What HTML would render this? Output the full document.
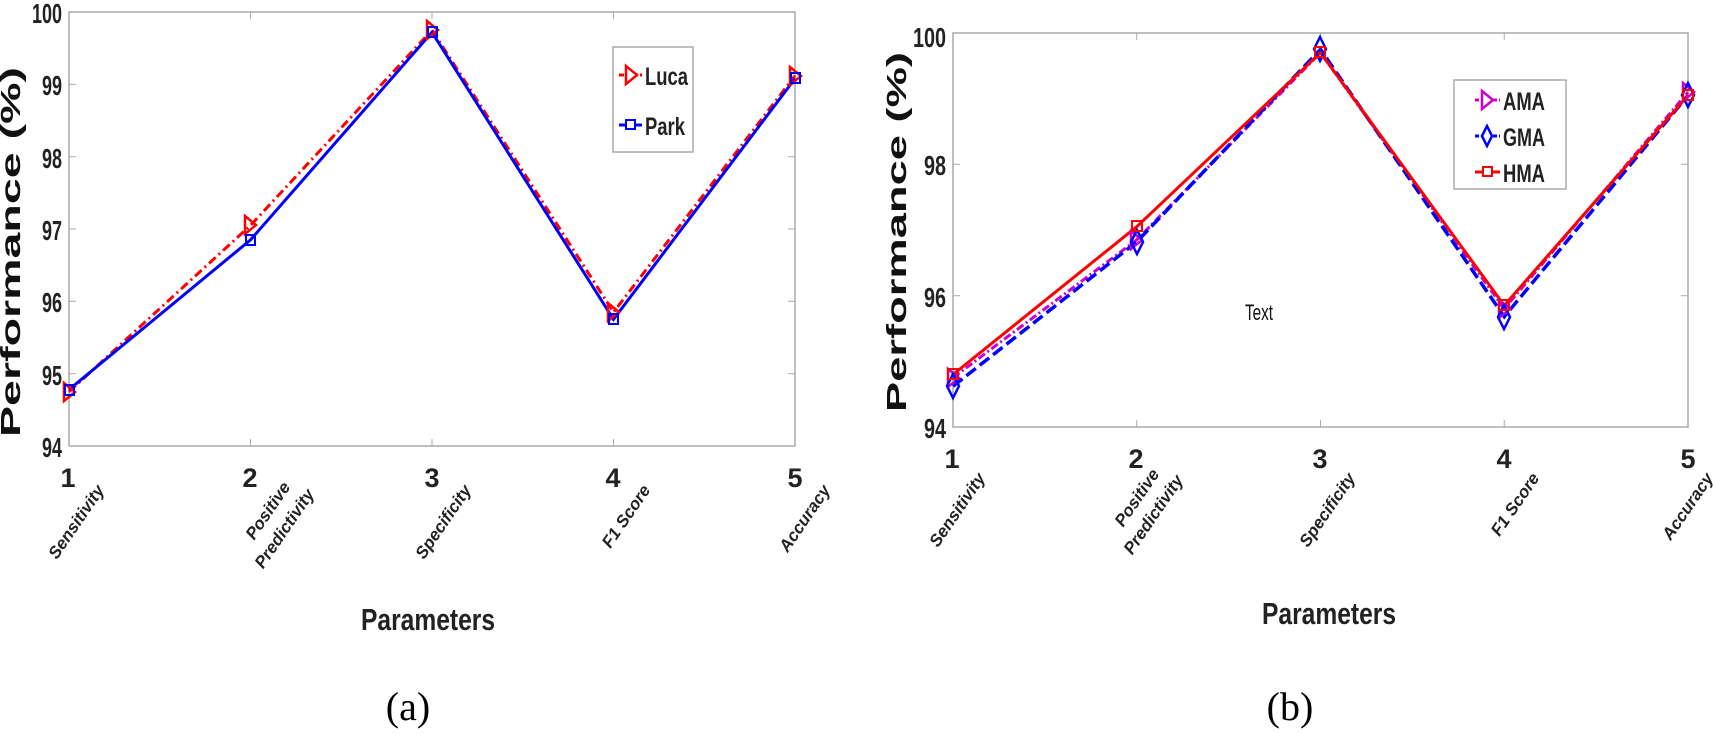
<!DOCTYPE html>
<html><head><style>
html,body{margin:0;padding:0;background:#fff;}
svg{display:block;}
.t{font-family:"Liberation Sans Narrow","Liberation Sans",sans-serif;font-weight:bold;fill:#222;}
.c{font-family:"Liberation Sans",sans-serif;font-weight:bold;font-style:italic;fill:#222;font-size:17px;}
.yl{font-family:"Liberation Sans",sans-serif;font-weight:bold;fill:#111;font-size:28px;}
.cap{font-family:"Liberation Serif",serif;font-size:40px;fill:#000;}
</style></head><body>
<svg width="1713" height="734" viewBox="0 0 1713 734" xmlns="http://www.w3.org/2000/svg">
<!-- LEFT PLOT -->
<g>
<rect x="69" y="12" width="726" height="434" fill="#fff" stroke="#aaa" stroke-width="1.5"/>
<g stroke="#aaa" stroke-width="1">
<line x1="250.5" y1="12" x2="250.5" y2="19"/><line x1="432" y1="12" x2="432" y2="19"/><line x1="613.5" y1="12" x2="613.5" y2="19"/>
<line x1="250.5" y1="446" x2="250.5" y2="439"/><line x1="432" y1="446" x2="432" y2="439"/><line x1="613.5" y1="446" x2="613.5" y2="439"/>
<line x1="69" y1="84.3" x2="76" y2="84.3"/><line x1="69" y1="156.7" x2="76" y2="156.7"/><line x1="69" y1="229" x2="76" y2="229"/><line x1="69" y1="301.3" x2="76" y2="301.3"/><line x1="69" y1="373.7" x2="76" y2="373.7"/>
<line x1="795" y1="84.3" x2="788" y2="84.3"/><line x1="795" y1="156.7" x2="788" y2="156.7"/><line x1="795" y1="229" x2="788" y2="229"/><line x1="795" y1="301.3" x2="788" y2="301.3"/><line x1="795" y1="373.7" x2="788" y2="373.7"/>
</g>
<g class="t" font-size="28" text-anchor="end">
<text x="62" y="23" textLength="30" lengthAdjust="spacingAndGlyphs">100</text>
<text x="62" y="95" textLength="20" lengthAdjust="spacingAndGlyphs">99</text>
<text x="62" y="168" textLength="20" lengthAdjust="spacingAndGlyphs">98</text>
<text x="62" y="240" textLength="20" lengthAdjust="spacingAndGlyphs">97</text>
<text x="62" y="312" textLength="20" lengthAdjust="spacingAndGlyphs">96</text>
<text x="62" y="385" textLength="20" lengthAdjust="spacingAndGlyphs">95</text>
<text x="62" y="457" textLength="20" lengthAdjust="spacingAndGlyphs">94</text>
</g>
<g class="t" font-size="27" text-anchor="middle">
<text x="68" y="487">1</text><text x="250" y="487">2</text><text x="432" y="487">3</text><text x="613" y="487">4</text><text x="795" y="487">5</text>
</g>
<polyline fill="none" stroke="#f00" stroke-width="3" stroke-dasharray="9,4,2,4" points="69,391.8 250.5,225.4 432,30.1 613.5,312.2 795,75.7"/>
<polyline fill="none" stroke="#00f" stroke-width="3" points="69,389.6 250.5,239.9 432,32.3 613.5,319.4 795,78.6"/>
<g fill="none" stroke="#f00" stroke-width="2.5">
<path d="M64,383 L75,392 L64,401 Z"/><path d="M245,216 L256,225 L245,234 Z"/><path d="M427,21 L438,30 L427,39 Z"/><path d="M608,303 L619,312 L608,321 Z"/><path d="M790,67 L801,76 L790,85 Z"/>
</g>
<g fill="none" stroke="#00f" stroke-width="2">
<rect x="65" y="385" width="9" height="10"/><rect x="246" y="235" width="9" height="10"/><rect x="428" y="27" width="9" height="10"/><rect x="609" y="314" width="9" height="10"/><rect x="791" y="73" width="9" height="10"/>
</g>
<rect x="613" y="47" width="80" height="105" fill="#fff" stroke="#aaa" stroke-width="1.5"/>
<line x1="619" y1="75" x2="642" y2="75" stroke="#f00" stroke-width="3" stroke-dasharray="5,2"/>
<path d="M626,66 L637,75 L626,84 Z" fill="#fff" stroke="#f00" stroke-width="2.5"/>
<text class="t" x="645" y="85" font-size="25" textLength="43" lengthAdjust="spacingAndGlyphs">Luca</text>
<line x1="619" y1="125" x2="642" y2="125" stroke="#00f" stroke-width="3"/>
<rect x="626" y="120" width="9" height="9" fill="#fff" stroke="#00f" stroke-width="2"/>
<text class="t" x="645" y="135" font-size="25" textLength="40" lengthAdjust="spacingAndGlyphs">Park</text>
<g class="c" text-anchor="end">
<text transform="translate(105,490) rotate(-55.5)">Sensitivity</text>
<text transform="translate(291,487) rotate(-55.5)">Positive</text>
<text transform="translate(315,494) rotate(-55.5)">Predictivity</text>
<text transform="translate(472,490) rotate(-55.5)">Specificity</text>
<text transform="translate(651,490) rotate(-55.5)">F1 Score</text>
<text transform="translate(831,490) rotate(-55.5)">Accuracy</text>
</g>
<text class="yl" transform="translate(20,252) rotate(-90)" text-anchor="middle" textLength="370" lengthAdjust="spacingAndGlyphs">Performance (%)</text>
<text class="t" x="428" y="630" font-size="31" text-anchor="middle" textLength="134" lengthAdjust="spacingAndGlyphs">Parameters</text>
<text class="cap" x="408" y="720" text-anchor="middle">(a)</text>
</g>
<!-- RIGHT PLOT -->
<g>
<rect x="953" y="33" width="735" height="394" fill="#fff" stroke="#aaa" stroke-width="1.5"/>
<g stroke="#aaa" stroke-width="1">
<line x1="1136.75" y1="33" x2="1136.75" y2="40"/><line x1="1320.5" y1="33" x2="1320.5" y2="40"/><line x1="1504.25" y1="33" x2="1504.25" y2="40"/>
<line x1="1136.75" y1="427" x2="1136.75" y2="420"/><line x1="1320.5" y1="427" x2="1320.5" y2="420"/><line x1="1504.25" y1="427" x2="1504.25" y2="420"/>
<line x1="953" y1="164.3" x2="960" y2="164.3"/><line x1="953" y1="295.7" x2="960" y2="295.7"/>
<line x1="1688" y1="164.3" x2="1681" y2="164.3"/><line x1="1688" y1="295.7" x2="1681" y2="295.7"/>
</g>
<g class="t" font-size="28" text-anchor="end">
<text x="946" y="47" textLength="33" lengthAdjust="spacingAndGlyphs">100</text>
<text x="946" y="175" textLength="22" lengthAdjust="spacingAndGlyphs">98</text>
<text x="946" y="307" textLength="22" lengthAdjust="spacingAndGlyphs">96</text>
<text x="946" y="438" textLength="22" lengthAdjust="spacingAndGlyphs">94</text>
</g>
<g class="t" font-size="27" text-anchor="middle">
<text x="952" y="468">1</text><text x="1136" y="468">2</text><text x="1320" y="468">3</text><text x="1504" y="468">4</text><text x="1688" y="468">5</text>
</g>
<text x="1259" y="320" font-family="Liberation Sans Narrow, Liberation Sans, sans-serif" font-size="22" fill="#111" text-anchor="middle" textLength="28" lengthAdjust="spacingAndGlyphs">Text</text>
<polyline fill="none" stroke="#c0c" stroke-width="3" stroke-dasharray="8,3,2,3" points="953,377.7 1136.75,239.8 1320.5,52.7 1504.25,308.8 1688,92.1"/>
<polyline fill="none" stroke="#00f" stroke-width="3.5" stroke-dasharray="12,5" points="953,386.3 1136.75,241.8 1320.5,49.4 1504.25,316.7 1688,95.4"/>
<polyline fill="none" stroke="#f00" stroke-width="3" points="953,374.5 1136.75,226.7 1320.5,52.7 1504.25,305.5 1688,95.4"/>
<g fill="none" stroke="#c0c" stroke-width="2.5">
<path d="M948,369 L959,378 L948,387 Z"/><path d="M1131,231 L1142,240 L1131,249 Z"/><path d="M1499,300 L1510,309 L1499,318 Z"/><path d="M1683,83 L1694,92 L1683,101 Z"/>
</g>
<g fill="none" stroke="#00f" stroke-width="2.5">
<path d="M953,374 L959,386 L953,398 L947,386 Z"/><path d="M1137,230 L1143,242 L1137,254 L1131,242 Z"/><path d="M1320,37 L1326,49 L1320,61 L1314,49 Z"/><path d="M1504,305 L1510,317 L1504,329 L1498,317 Z"/><path d="M1688,83 L1694,95 L1688,107 L1682,95 Z"/>
</g>
<g fill="none" stroke="#f00" stroke-width="2">
<rect x="948" y="369" width="10" height="10"/><rect x="1132" y="221" width="10" height="10"/><rect x="1315" y="47" width="10" height="10"/><rect x="1499" y="300" width="10" height="10"/><rect x="1683" y="90" width="10" height="10"/>
</g>
<rect x="1454" y="80" width="112" height="109" fill="#fff" stroke="#aaa" stroke-width="1.5"/>
<line x1="1475" y1="100" x2="1500" y2="100" stroke="#c0c" stroke-width="3" stroke-dasharray="4,2"/>
<path d="M1482,91 L1493,100 L1482,109 Z" fill="#fff" stroke="#c0c" stroke-width="2.5"/>
<text class="t" x="1503" y="110" font-size="25" textLength="42" lengthAdjust="spacingAndGlyphs">AMA</text>
<line x1="1475" y1="136" x2="1500" y2="136" stroke="#00f" stroke-width="3" stroke-dasharray="4,2"/>
<path d="M1487,126 L1492,136 L1487,146 L1482,136 Z" fill="#fff" stroke="#00f" stroke-width="2.5"/>
<text class="t" x="1503" y="146" font-size="25" textLength="42" lengthAdjust="spacingAndGlyphs">GMA</text>
<line x1="1475" y1="172" x2="1500" y2="172" stroke="#f00" stroke-width="3"/>
<rect x="1483" y="167" width="9" height="9" fill="#fff" stroke="#f00" stroke-width="2"/>
<text class="t" x="1503" y="182" font-size="25" textLength="42" lengthAdjust="spacingAndGlyphs">HMA</text>
<g class="c" text-anchor="end">
<text transform="translate(986,478) rotate(-55.5)">Sensitivity</text>
<text transform="translate(1160,474) rotate(-55.5)">Positive</text>
<text transform="translate(1184,480) rotate(-55.5)">Predictivity</text>
<text transform="translate(1356,478) rotate(-55.5)">Specificity</text>
<text transform="translate(1540,478) rotate(-55.5)">F1 Score</text>
<text transform="translate(1714,478) rotate(-55.5)">Accuracy</text>
</g>
<text class="yl" transform="translate(906,232) rotate(-90)" text-anchor="middle" textLength="360" lengthAdjust="spacingAndGlyphs">Performance (%)</text>
<text class="t" x="1329" y="624" font-size="31" text-anchor="middle" textLength="134" lengthAdjust="spacingAndGlyphs">Parameters</text>
<text class="cap" x="1290" y="720" text-anchor="middle">(b)</text>
</g>
</svg>
</body></html>
